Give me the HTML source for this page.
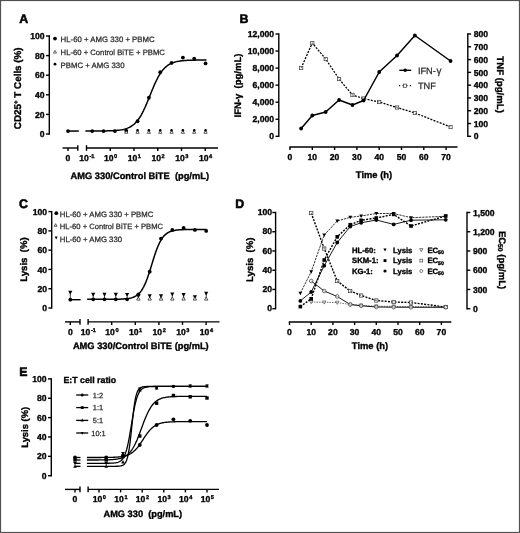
<!DOCTYPE html>
<html lang="en"><head><meta charset="utf-8"><title>Figure</title>
<style>
html,body{margin:0;padding:0;background:#fff;}
svg{display:block;font-family:'Liberation Sans', Arial, Helvetica, sans-serif;}
</style></head><body>
<svg width="520" height="533" viewBox="0 0 520 533" text-rendering="geometricPrecision" font-family="'Liberation Sans', Arial, Helvetica, sans-serif">
<rect x="0" y="0" width="520" height="533" fill="#fff"/>
<defs><filter id="soft" x="0" y="0" width="520" height="533" filterUnits="userSpaceOnUse"><feGaussianBlur stdDeviation="0.32"/></filter></defs>
<rect x="0.55" y="0.55" width="518.9" height="531.9" fill="none" stroke="#505050" stroke-width="1.1"/>
<g filter="url(#soft)">
<text x="19.30" y="22.90" font-size="12.4" font-weight="bold" text-anchor="start" fill="#000" stroke="#000" stroke-width="0.55" stroke-linejoin="round">A</text>
<line x1="49.30" y1="35.30" x2="49.30" y2="134.70" stroke="#000" stroke-width="1.4" stroke-linecap="butt"/>
<line x1="46.00" y1="134.00" x2="49.30" y2="134.00" stroke="#000" stroke-width="1.4" stroke-linecap="butt"/>
<text x="44.60" y="137.15" font-size="8.6" font-weight="bold" text-anchor="end" fill="#000" stroke="#000" stroke-width="0.35" stroke-linejoin="round">0</text>
<line x1="46.00" y1="114.40" x2="49.30" y2="114.40" stroke="#000" stroke-width="1.4" stroke-linecap="butt"/>
<text x="44.60" y="117.55" font-size="8.6" font-weight="bold" text-anchor="end" fill="#000" stroke="#000" stroke-width="0.35" stroke-linejoin="round">20</text>
<line x1="46.00" y1="94.80" x2="49.30" y2="94.80" stroke="#000" stroke-width="1.4" stroke-linecap="butt"/>
<text x="44.60" y="97.95" font-size="8.6" font-weight="bold" text-anchor="end" fill="#000" stroke="#000" stroke-width="0.35" stroke-linejoin="round">40</text>
<line x1="46.00" y1="75.20" x2="49.30" y2="75.20" stroke="#000" stroke-width="1.4" stroke-linecap="butt"/>
<text x="44.60" y="78.35" font-size="8.6" font-weight="bold" text-anchor="end" fill="#000" stroke="#000" stroke-width="0.35" stroke-linejoin="round">60</text>
<line x1="46.00" y1="55.60" x2="49.30" y2="55.60" stroke="#000" stroke-width="1.4" stroke-linecap="butt"/>
<text x="44.60" y="58.75" font-size="8.6" font-weight="bold" text-anchor="end" fill="#000" stroke="#000" stroke-width="0.35" stroke-linejoin="round">80</text>
<line x1="46.00" y1="36.00" x2="49.30" y2="36.00" stroke="#000" stroke-width="1.4" stroke-linecap="butt"/>
<text x="44.60" y="39.15" font-size="8.6" font-weight="bold" text-anchor="end" fill="#000" stroke="#000" stroke-width="0.35" stroke-linejoin="round">100</text>
<text transform="translate(21.0 88.3) rotate(-90)" font-size="9.85" font-weight="bold" text-anchor="middle" stroke="#000" stroke-width="0.35">CD25<tspan font-size="6.2" dy="-3.4">+</tspan><tspan dy="3.4"> T Cells (%)</tspan></text>
<line x1="62.50" y1="148.00" x2="77.80" y2="148.00" stroke="#000" stroke-width="1.4" stroke-linecap="butt"/>
<line x1="77.80" y1="145.20" x2="77.80" y2="150.80" stroke="#000" stroke-width="1.4" stroke-linecap="butt"/>
<line x1="68.00" y1="148.00" x2="68.00" y2="151.00" stroke="#000" stroke-width="1.4" stroke-linecap="butt"/>
<line x1="86.50" y1="148.00" x2="218.00" y2="148.00" stroke="#000" stroke-width="1.4" stroke-linecap="butt"/>
<line x1="86.50" y1="145.20" x2="86.50" y2="150.80" stroke="#000" stroke-width="1.4" stroke-linecap="butt"/>
<text x="68.00" y="161.20" font-size="8.6" font-weight="bold" text-anchor="middle" fill="#000" stroke="#000" stroke-width="0.35" stroke-linejoin="round">0</text>
<text x="86.80" y="161.20" font-size="8.6" font-weight="bold" text-anchor="middle" fill="#000" stroke="#000" stroke-width="0.35">10<tspan font-size="5.6" dy="-3.2" dx="0.6">-1</tspan></text>
<line x1="110.25" y1="148.00" x2="110.25" y2="151.00" stroke="#000" stroke-width="1.4" stroke-linecap="butt"/>
<text x="110.55" y="161.20" font-size="8.6" font-weight="bold" text-anchor="middle" fill="#000" stroke="#000" stroke-width="0.35">10<tspan font-size="5.6" dy="-3.2" dx="0.6">0</tspan></text>
<line x1="134.00" y1="148.00" x2="134.00" y2="151.00" stroke="#000" stroke-width="1.4" stroke-linecap="butt"/>
<text x="134.30" y="161.20" font-size="8.6" font-weight="bold" text-anchor="middle" fill="#000" stroke="#000" stroke-width="0.35">10<tspan font-size="5.6" dy="-3.2" dx="0.6">1</tspan></text>
<line x1="157.75" y1="148.00" x2="157.75" y2="151.00" stroke="#000" stroke-width="1.4" stroke-linecap="butt"/>
<text x="158.05" y="161.20" font-size="8.6" font-weight="bold" text-anchor="middle" fill="#000" stroke="#000" stroke-width="0.35">10<tspan font-size="5.6" dy="-3.2" dx="0.6">2</tspan></text>
<line x1="181.50" y1="148.00" x2="181.50" y2="151.00" stroke="#000" stroke-width="1.4" stroke-linecap="butt"/>
<text x="181.80" y="161.20" font-size="8.6" font-weight="bold" text-anchor="middle" fill="#000" stroke="#000" stroke-width="0.35">10<tspan font-size="5.6" dy="-3.2" dx="0.6">3</tspan></text>
<line x1="205.25" y1="148.00" x2="205.25" y2="151.00" stroke="#000" stroke-width="1.4" stroke-linecap="butt"/>
<text x="205.55" y="161.20" font-size="8.6" font-weight="bold" text-anchor="middle" fill="#000" stroke="#000" stroke-width="0.35">10<tspan font-size="5.6" dy="-3.2" dx="0.6">4</tspan></text>
<text x="139.80" y="179.30" font-size="9.3" font-weight="bold" text-anchor="middle" fill="#000" stroke="#000" stroke-width="0.35" stroke-linejoin="round" xml:space="preserve">AMG 330/Control BiTE  (pg/mL)</text>
<circle cx="55.00" cy="38.60" r="1.9" fill="#000" stroke="none" stroke-width="0.8"/>
<text x="60.60" y="41.70" font-size="7.8" font-weight="normal" text-anchor="start" fill="#2a2a2a" stroke="#2a2a2a" stroke-width="0.25">HL-60 + AMG 330 + PBMC</text>
<polygon points="55.00,50.30 53.48,53.10 56.52,53.10" fill="#fff" stroke="#444" stroke-width="0.8" stroke-linejoin="miter"/>
<text x="60.60" y="54.70" font-size="7.7" font-weight="normal" text-anchor="start" fill="#2a2a2a" stroke="#2a2a2a" stroke-width="0.25">HL-60 + Control BiTE + PBMC</text>
<circle cx="55.00" cy="64.20" r="1.4" fill="#000" stroke="none" stroke-width="0.8"/>
<text x="60.60" y="67.80" font-size="7.8" font-weight="normal" text-anchor="start" fill="#2a2a2a" stroke="#2a2a2a" stroke-width="0.25">PBMC + AMG 330</text>
<polyline points="85.38,131.05 86.56,131.05 87.75,131.05 88.94,131.05 90.12,131.04 91.31,131.04 92.50,131.04 93.69,131.03 94.88,131.03 96.06,131.02 97.25,131.02 98.44,131.01 99.63,131.00 100.81,130.99 102.00,130.98 103.19,130.96 104.38,130.94 105.56,130.92 106.75,130.90 107.94,130.87 109.13,130.83 110.31,130.79 111.50,130.74 112.69,130.69 113.88,130.62 115.06,130.54 116.25,130.45 117.44,130.33 118.62,130.20 119.81,130.05 121.00,129.87 122.19,129.66 123.38,129.41 124.56,129.12 125.75,128.78 126.94,128.38 128.13,127.91 129.31,127.37 130.50,126.74 131.69,126.01 132.88,125.17 134.06,124.21 135.25,123.10 136.44,121.84 137.63,120.42 138.81,118.82 140.00,117.03 141.19,115.06 142.38,112.89 143.56,110.54 144.75,108.03 145.94,105.35 147.13,102.56 148.31,99.67 149.50,96.72 150.69,93.76 151.88,90.82 153.06,87.94 154.25,85.17 155.44,82.53 156.63,80.04 157.81,77.73 159.00,75.60 160.19,73.67 161.38,71.92 162.56,70.35 163.75,68.96 164.94,67.74 166.12,66.66 167.31,65.72 168.50,64.90 169.69,64.20 170.88,63.58 172.06,63.06 173.25,62.61 174.44,62.22 175.62,61.89 176.81,61.61 178.00,61.37 179.19,61.16 180.37,60.99 181.56,60.84 182.75,60.71 183.94,60.60 185.12,60.51 186.31,60.44 187.50,60.37 188.69,60.32 189.87,60.27 191.06,60.23 192.25,60.20 193.44,60.17 194.62,60.14 195.81,60.12 197.00,60.11 198.19,60.09 199.37,60.08 200.56,60.07 201.75,60.06 202.94,60.05 204.12,60.05 205.31,60.04 206.50,60.04" fill="none" stroke="#000" stroke-width="1.5" stroke-linejoin="round"/>
<line x1="68.00" y1="131.06" x2="78.80" y2="131.06" stroke="#000" stroke-width="1.5" stroke-linecap="butt"/>
<circle cx="68.00" cy="131.06" r="1.9" fill="#000" stroke="none" stroke-width="0.8"/>
<circle cx="92.24" cy="131.06" r="1.9" fill="#000" stroke="none" stroke-width="0.8"/>
<circle cx="103.57" cy="131.06" r="1.9" fill="#000" stroke="none" stroke-width="0.8"/>
<circle cx="114.90" cy="131.06" r="1.9" fill="#000" stroke="none" stroke-width="0.8"/>
<circle cx="126.23" cy="130.86" r="1.9" fill="#000" stroke="none" stroke-width="0.8"/>
<circle cx="137.56" cy="121.26" r="1.9" fill="#000" stroke="none" stroke-width="0.8"/>
<circle cx="148.89" cy="97.74" r="1.9" fill="#000" stroke="none" stroke-width="0.8"/>
<circle cx="160.23" cy="72.26" r="1.9" fill="#000" stroke="none" stroke-width="0.8"/>
<circle cx="171.56" cy="62.95" r="1.9" fill="#000" stroke="none" stroke-width="0.8"/>
<circle cx="182.89" cy="57.56" r="1.9" fill="#000" stroke="none" stroke-width="0.8"/>
<circle cx="194.22" cy="58.54" r="1.9" fill="#000" stroke="none" stroke-width="0.8"/>
<circle cx="205.55" cy="63.44" r="1.9" fill="#000" stroke="none" stroke-width="0.8"/>
<polygon points="126.23,130.34 124.62,133.31 127.85,133.31" fill="#fff" stroke="#2a2a2a" stroke-width="0.75" stroke-linejoin="miter"/>
<circle cx="126.23" cy="130.18" r="1.25" fill="#000" stroke="none" stroke-width="0.8"/>
<polygon points="137.56,130.34 135.95,133.31 139.18,133.31" fill="#fff" stroke="#2a2a2a" stroke-width="0.75" stroke-linejoin="miter"/>
<circle cx="137.56" cy="130.18" r="1.25" fill="#000" stroke="none" stroke-width="0.8"/>
<polygon points="148.89,130.34 147.28,133.31 150.51,133.31" fill="#fff" stroke="#2a2a2a" stroke-width="0.75" stroke-linejoin="miter"/>
<circle cx="148.89" cy="130.18" r="1.25" fill="#000" stroke="none" stroke-width="0.8"/>
<polygon points="160.23,130.34 158.61,133.31 161.84,133.31" fill="#fff" stroke="#2a2a2a" stroke-width="0.75" stroke-linejoin="miter"/>
<circle cx="160.23" cy="130.18" r="1.25" fill="#000" stroke="none" stroke-width="0.8"/>
<polygon points="171.56,130.34 169.94,133.31 173.17,133.31" fill="#fff" stroke="#2a2a2a" stroke-width="0.75" stroke-linejoin="miter"/>
<circle cx="171.56" cy="130.18" r="1.25" fill="#000" stroke="none" stroke-width="0.8"/>
<polygon points="182.89,130.34 181.27,133.31 184.50,133.31" fill="#fff" stroke="#2a2a2a" stroke-width="0.75" stroke-linejoin="miter"/>
<circle cx="182.89" cy="130.18" r="1.25" fill="#000" stroke="none" stroke-width="0.8"/>
<polygon points="194.22,130.34 192.60,133.31 195.83,133.31" fill="#fff" stroke="#2a2a2a" stroke-width="0.75" stroke-linejoin="miter"/>
<circle cx="194.22" cy="130.18" r="1.25" fill="#000" stroke="none" stroke-width="0.8"/>
<polygon points="205.55,130.34 203.94,133.31 207.17,133.31" fill="#fff" stroke="#2a2a2a" stroke-width="0.75" stroke-linejoin="miter"/>
<circle cx="205.55" cy="130.18" r="1.25" fill="#000" stroke="none" stroke-width="0.8"/>
<text x="239.60" y="22.70" font-size="12.4" font-weight="bold" text-anchor="start" fill="#000" stroke="#000" stroke-width="0.55" stroke-linejoin="round">B</text>
<line x1="278.80" y1="33.30" x2="278.80" y2="137.00" stroke="#000" stroke-width="1.4" stroke-linecap="butt"/>
<line x1="275.50" y1="136.30" x2="278.80" y2="136.30" stroke="#000" stroke-width="1.4" stroke-linecap="butt"/>
<text x="274.10" y="139.45" font-size="8.6" font-weight="bold" text-anchor="end" fill="#000" stroke="#000" stroke-width="0.35" stroke-linejoin="round">0</text>
<line x1="275.50" y1="119.25" x2="278.80" y2="119.25" stroke="#000" stroke-width="1.4" stroke-linecap="butt"/>
<text x="274.10" y="122.40" font-size="8.6" font-weight="bold" text-anchor="end" fill="#000" stroke="#000" stroke-width="0.35" stroke-linejoin="round">2,000</text>
<line x1="275.50" y1="102.20" x2="278.80" y2="102.20" stroke="#000" stroke-width="1.4" stroke-linecap="butt"/>
<text x="274.10" y="105.35" font-size="8.6" font-weight="bold" text-anchor="end" fill="#000" stroke="#000" stroke-width="0.35" stroke-linejoin="round">4,000</text>
<line x1="275.50" y1="85.15" x2="278.80" y2="85.15" stroke="#000" stroke-width="1.4" stroke-linecap="butt"/>
<text x="274.10" y="88.30" font-size="8.6" font-weight="bold" text-anchor="end" fill="#000" stroke="#000" stroke-width="0.35" stroke-linejoin="round">6,000</text>
<line x1="275.50" y1="68.10" x2="278.80" y2="68.10" stroke="#000" stroke-width="1.4" stroke-linecap="butt"/>
<text x="274.10" y="71.25" font-size="8.6" font-weight="bold" text-anchor="end" fill="#000" stroke="#000" stroke-width="0.35" stroke-linejoin="round">8,000</text>
<line x1="275.50" y1="51.05" x2="278.80" y2="51.05" stroke="#000" stroke-width="1.4" stroke-linecap="butt"/>
<text x="274.10" y="54.20" font-size="8.6" font-weight="bold" text-anchor="end" fill="#000" stroke="#000" stroke-width="0.35" stroke-linejoin="round">10,000</text>
<line x1="275.50" y1="34.00" x2="278.80" y2="34.00" stroke="#000" stroke-width="1.4" stroke-linecap="butt"/>
<text x="274.10" y="37.15" font-size="8.6" font-weight="bold" text-anchor="end" fill="#000" stroke="#000" stroke-width="0.35" stroke-linejoin="round">12,000</text>
<text x="241.30" y="85.50" font-size="9.5" font-weight="bold" text-anchor="middle" fill="#000" stroke="#000" stroke-width="0.35" stroke-linejoin="round" transform="rotate(-90 241.30 85.50)" xml:space="preserve">IFN-γ  (pg/mL)</text>
<line x1="467.80" y1="33.30" x2="467.80" y2="137.00" stroke="#000" stroke-width="1.4" stroke-linecap="butt"/>
<line x1="467.80" y1="136.30" x2="471.10" y2="136.30" stroke="#000" stroke-width="1.4" stroke-linecap="butt"/>
<text x="473.80" y="139.45" font-size="8.6" font-weight="bold" text-anchor="start" fill="#000" stroke="#000" stroke-width="0.35" stroke-linejoin="round">0</text>
<line x1="467.80" y1="123.51" x2="471.10" y2="123.51" stroke="#000" stroke-width="1.4" stroke-linecap="butt"/>
<text x="473.80" y="126.66" font-size="8.6" font-weight="bold" text-anchor="start" fill="#000" stroke="#000" stroke-width="0.35" stroke-linejoin="round">100</text>
<line x1="467.80" y1="110.73" x2="471.10" y2="110.73" stroke="#000" stroke-width="1.4" stroke-linecap="butt"/>
<text x="473.80" y="113.88" font-size="8.6" font-weight="bold" text-anchor="start" fill="#000" stroke="#000" stroke-width="0.35" stroke-linejoin="round">200</text>
<line x1="467.80" y1="97.94" x2="471.10" y2="97.94" stroke="#000" stroke-width="1.4" stroke-linecap="butt"/>
<text x="473.80" y="101.09" font-size="8.6" font-weight="bold" text-anchor="start" fill="#000" stroke="#000" stroke-width="0.35" stroke-linejoin="round">300</text>
<line x1="467.80" y1="85.15" x2="471.10" y2="85.15" stroke="#000" stroke-width="1.4" stroke-linecap="butt"/>
<text x="473.80" y="88.30" font-size="8.6" font-weight="bold" text-anchor="start" fill="#000" stroke="#000" stroke-width="0.35" stroke-linejoin="round">400</text>
<line x1="467.80" y1="72.36" x2="471.10" y2="72.36" stroke="#000" stroke-width="1.4" stroke-linecap="butt"/>
<text x="473.80" y="75.51" font-size="8.6" font-weight="bold" text-anchor="start" fill="#000" stroke="#000" stroke-width="0.35" stroke-linejoin="round">500</text>
<line x1="467.80" y1="59.58" x2="471.10" y2="59.58" stroke="#000" stroke-width="1.4" stroke-linecap="butt"/>
<text x="473.80" y="62.73" font-size="8.6" font-weight="bold" text-anchor="start" fill="#000" stroke="#000" stroke-width="0.35" stroke-linejoin="round">600</text>
<line x1="467.80" y1="46.79" x2="471.10" y2="46.79" stroke="#000" stroke-width="1.4" stroke-linecap="butt"/>
<text x="473.80" y="49.94" font-size="8.6" font-weight="bold" text-anchor="start" fill="#000" stroke="#000" stroke-width="0.35" stroke-linejoin="round">700</text>
<line x1="467.80" y1="34.00" x2="471.10" y2="34.00" stroke="#000" stroke-width="1.4" stroke-linecap="butt"/>
<text x="473.80" y="37.15" font-size="8.6" font-weight="bold" text-anchor="start" fill="#000" stroke="#000" stroke-width="0.35" stroke-linejoin="round">800</text>
<text x="496.80" y="84.60" font-size="9.6" font-weight="bold" text-anchor="middle" fill="#000" stroke="#000" stroke-width="0.35" stroke-linejoin="round" transform="rotate(90 496.80 84.60)">TNF (pg/mL)</text>
<line x1="289.30" y1="147.00" x2="457.50" y2="147.00" stroke="#000" stroke-width="1.4" stroke-linecap="butt"/>
<line x1="290.00" y1="147.00" x2="290.00" y2="150.00" stroke="#000" stroke-width="1.4" stroke-linecap="butt"/>
<text x="290.00" y="160.30" font-size="8.6" font-weight="bold" text-anchor="middle" fill="#000" stroke="#000" stroke-width="0.35" stroke-linejoin="round">0</text>
<line x1="312.30" y1="147.00" x2="312.30" y2="150.00" stroke="#000" stroke-width="1.4" stroke-linecap="butt"/>
<text x="312.30" y="160.30" font-size="8.6" font-weight="bold" text-anchor="middle" fill="#000" stroke="#000" stroke-width="0.35" stroke-linejoin="round">10</text>
<line x1="334.60" y1="147.00" x2="334.60" y2="150.00" stroke="#000" stroke-width="1.4" stroke-linecap="butt"/>
<text x="334.60" y="160.30" font-size="8.6" font-weight="bold" text-anchor="middle" fill="#000" stroke="#000" stroke-width="0.35" stroke-linejoin="round">20</text>
<line x1="356.90" y1="147.00" x2="356.90" y2="150.00" stroke="#000" stroke-width="1.4" stroke-linecap="butt"/>
<text x="356.90" y="160.30" font-size="8.6" font-weight="bold" text-anchor="middle" fill="#000" stroke="#000" stroke-width="0.35" stroke-linejoin="round">30</text>
<line x1="379.20" y1="147.00" x2="379.20" y2="150.00" stroke="#000" stroke-width="1.4" stroke-linecap="butt"/>
<text x="379.20" y="160.30" font-size="8.6" font-weight="bold" text-anchor="middle" fill="#000" stroke="#000" stroke-width="0.35" stroke-linejoin="round">40</text>
<line x1="401.50" y1="147.00" x2="401.50" y2="150.00" stroke="#000" stroke-width="1.4" stroke-linecap="butt"/>
<text x="401.50" y="160.30" font-size="8.6" font-weight="bold" text-anchor="middle" fill="#000" stroke="#000" stroke-width="0.35" stroke-linejoin="round">50</text>
<line x1="423.80" y1="147.00" x2="423.80" y2="150.00" stroke="#000" stroke-width="1.4" stroke-linecap="butt"/>
<text x="423.80" y="160.30" font-size="8.6" font-weight="bold" text-anchor="middle" fill="#000" stroke="#000" stroke-width="0.35" stroke-linejoin="round">60</text>
<line x1="446.10" y1="147.00" x2="446.10" y2="150.00" stroke="#000" stroke-width="1.4" stroke-linecap="butt"/>
<text x="446.10" y="160.30" font-size="8.6" font-weight="bold" text-anchor="middle" fill="#000" stroke="#000" stroke-width="0.35" stroke-linejoin="round">70</text>
<text x="374.00" y="177.60" font-size="9.4" font-weight="bold" text-anchor="middle" fill="#000" stroke="#000" stroke-width="0.35" stroke-linejoin="round">Time (h)</text>
<polyline points="301.15,68.00 312.30,43.00 325.68,59.00 339.06,79.00 352.44,95.00 363.59,98.50 379.20,102.00 397.04,107.50 414.88,113.00 450.56,127.00" fill="none" stroke="#000" stroke-width="1.3" stroke-dasharray="2.0 1.3" stroke-linejoin="round"/>
<rect x="299.50" y="66.35" width="3.3" height="3.3" fill="rgba(255,255,255,0.55)" stroke="#444" stroke-width="0.75"/>
<rect x="310.65" y="41.35" width="3.3" height="3.3" fill="rgba(255,255,255,0.55)" stroke="#444" stroke-width="0.75"/>
<rect x="324.03" y="57.35" width="3.3" height="3.3" fill="rgba(255,255,255,0.55)" stroke="#444" stroke-width="0.75"/>
<rect x="337.41" y="77.35" width="3.3" height="3.3" fill="rgba(255,255,255,0.55)" stroke="#444" stroke-width="0.75"/>
<rect x="350.79" y="93.35" width="3.3" height="3.3" fill="rgba(255,255,255,0.55)" stroke="#444" stroke-width="0.75"/>
<rect x="361.94" y="96.85" width="3.3" height="3.3" fill="rgba(255,255,255,0.55)" stroke="#444" stroke-width="0.75"/>
<rect x="377.55" y="100.35" width="3.3" height="3.3" fill="rgba(255,255,255,0.55)" stroke="#444" stroke-width="0.75"/>
<rect x="395.39" y="105.85" width="3.3" height="3.3" fill="rgba(255,255,255,0.55)" stroke="#444" stroke-width="0.75"/>
<rect x="413.23" y="111.35" width="3.3" height="3.3" fill="rgba(255,255,255,0.55)" stroke="#444" stroke-width="0.75"/>
<rect x="448.91" y="125.35" width="3.3" height="3.3" fill="rgba(255,255,255,0.55)" stroke="#444" stroke-width="0.75"/>
<polyline points="301.15,128.50 312.30,115.50 325.68,112.00 339.06,100.00 352.44,105.00 363.59,100.50 379.20,72.00 397.04,55.50 414.88,35.50 450.56,61.00" fill="none" stroke="#000" stroke-width="1.5" stroke-linejoin="round"/>
<circle cx="301.15" cy="128.50" r="1.9" fill="#000" stroke="none" stroke-width="0.8"/>
<circle cx="312.30" cy="115.50" r="1.9" fill="#000" stroke="none" stroke-width="0.8"/>
<circle cx="325.68" cy="112.00" r="1.9" fill="#000" stroke="none" stroke-width="0.8"/>
<circle cx="339.06" cy="100.00" r="1.9" fill="#000" stroke="none" stroke-width="0.8"/>
<circle cx="352.44" cy="105.00" r="1.9" fill="#000" stroke="none" stroke-width="0.8"/>
<circle cx="363.59" cy="100.50" r="1.9" fill="#000" stroke="none" stroke-width="0.8"/>
<circle cx="379.20" cy="72.00" r="1.9" fill="#000" stroke="none" stroke-width="0.8"/>
<circle cx="397.04" cy="55.50" r="1.9" fill="#000" stroke="none" stroke-width="0.8"/>
<circle cx="414.88" cy="35.50" r="1.9" fill="#000" stroke="none" stroke-width="0.8"/>
<circle cx="450.56" cy="61.00" r="1.9" fill="#000" stroke="none" stroke-width="0.8"/>
<line x1="399.30" y1="70.30" x2="411.20" y2="70.30" stroke="#000" stroke-width="1.4" stroke-linecap="butt"/>
<circle cx="405.20" cy="70.30" r="1.8" fill="#000" stroke="none" stroke-width="0.8"/>
<text x="417.90" y="74.00" font-size="9.2" font-weight="normal" text-anchor="start" fill="#2a2a2a" stroke="#2a2a2a" stroke-width="0.25">IFN-<tspan dx="0.8" font-size="10">γ</tspan></text>
<line x1="399.00" y1="85.70" x2="411.00" y2="85.70" stroke="#000" stroke-width="1.3" stroke-dasharray="1.2 2.4" stroke-linecap="butt"/>
<rect x="403.30" y="84.10" width="3.2" height="3.2" fill="rgba(255,255,255,0.55)" stroke="#444" stroke-width="0.75"/>
<text x="417.90" y="88.90" font-size="9.2" font-weight="normal" text-anchor="start" fill="#2a2a2a" stroke="#2a2a2a" stroke-width="0.25">TNF</text>
<text x="19.00" y="208.40" font-size="12.4" font-weight="bold" text-anchor="start" fill="#000" stroke="#000" stroke-width="0.55" stroke-linejoin="round">C</text>
<line x1="51.70" y1="210.90" x2="51.70" y2="308.70" stroke="#000" stroke-width="1.4" stroke-linecap="butt"/>
<line x1="48.40" y1="308.00" x2="51.70" y2="308.00" stroke="#000" stroke-width="1.4" stroke-linecap="butt"/>
<text x="47.00" y="311.15" font-size="8.6" font-weight="bold" text-anchor="end" fill="#000" stroke="#000" stroke-width="0.35" stroke-linejoin="round">0</text>
<line x1="48.40" y1="288.72" x2="51.70" y2="288.72" stroke="#000" stroke-width="1.4" stroke-linecap="butt"/>
<text x="47.00" y="291.87" font-size="8.6" font-weight="bold" text-anchor="end" fill="#000" stroke="#000" stroke-width="0.35" stroke-linejoin="round">20</text>
<line x1="48.40" y1="269.44" x2="51.70" y2="269.44" stroke="#000" stroke-width="1.4" stroke-linecap="butt"/>
<text x="47.00" y="272.59" font-size="8.6" font-weight="bold" text-anchor="end" fill="#000" stroke="#000" stroke-width="0.35" stroke-linejoin="round">40</text>
<line x1="48.40" y1="250.16" x2="51.70" y2="250.16" stroke="#000" stroke-width="1.4" stroke-linecap="butt"/>
<text x="47.00" y="253.31" font-size="8.6" font-weight="bold" text-anchor="end" fill="#000" stroke="#000" stroke-width="0.35" stroke-linejoin="round">60</text>
<line x1="48.40" y1="230.88" x2="51.70" y2="230.88" stroke="#000" stroke-width="1.4" stroke-linecap="butt"/>
<text x="47.00" y="234.03" font-size="8.6" font-weight="bold" text-anchor="end" fill="#000" stroke="#000" stroke-width="0.35" stroke-linejoin="round">80</text>
<line x1="48.40" y1="211.60" x2="51.70" y2="211.60" stroke="#000" stroke-width="1.4" stroke-linecap="butt"/>
<text x="47.00" y="214.75" font-size="8.6" font-weight="bold" text-anchor="end" fill="#000" stroke="#000" stroke-width="0.35" stroke-linejoin="round">100</text>
<text x="26.60" y="259.50" font-size="9.6" font-weight="bold" text-anchor="middle" fill="#000" stroke="#000" stroke-width="0.35" stroke-linejoin="round" transform="rotate(-90 26.60 259.50)" xml:space="preserve">Lysis  (%)</text>
<line x1="65.00" y1="321.90" x2="80.00" y2="321.90" stroke="#000" stroke-width="1.4" stroke-linecap="butt"/>
<line x1="80.00" y1="319.10" x2="80.00" y2="324.70" stroke="#000" stroke-width="1.4" stroke-linecap="butt"/>
<line x1="70.30" y1="321.90" x2="70.30" y2="324.90" stroke="#000" stroke-width="1.4" stroke-linecap="butt"/>
<line x1="88.10" y1="321.90" x2="219.50" y2="321.90" stroke="#000" stroke-width="1.4" stroke-linecap="butt"/>
<line x1="88.10" y1="319.10" x2="88.10" y2="324.70" stroke="#000" stroke-width="1.4" stroke-linecap="butt"/>
<text x="70.30" y="335.40" font-size="8.6" font-weight="bold" text-anchor="middle" fill="#000" stroke="#000" stroke-width="0.35" stroke-linejoin="round">0</text>
<text x="88.40" y="335.40" font-size="8.6" font-weight="bold" text-anchor="middle" fill="#000" stroke="#000" stroke-width="0.35">10<tspan font-size="5.6" dy="-3.2" dx="0.6">-1</tspan></text>
<line x1="111.70" y1="321.90" x2="111.70" y2="324.90" stroke="#000" stroke-width="1.4" stroke-linecap="butt"/>
<text x="112.00" y="335.40" font-size="8.6" font-weight="bold" text-anchor="middle" fill="#000" stroke="#000" stroke-width="0.35">10<tspan font-size="5.6" dy="-3.2" dx="0.6">0</tspan></text>
<line x1="135.30" y1="321.90" x2="135.30" y2="324.90" stroke="#000" stroke-width="1.4" stroke-linecap="butt"/>
<text x="135.60" y="335.40" font-size="8.6" font-weight="bold" text-anchor="middle" fill="#000" stroke="#000" stroke-width="0.35">10<tspan font-size="5.6" dy="-3.2" dx="0.6">1</tspan></text>
<line x1="158.90" y1="321.90" x2="158.90" y2="324.90" stroke="#000" stroke-width="1.4" stroke-linecap="butt"/>
<text x="159.20" y="335.40" font-size="8.6" font-weight="bold" text-anchor="middle" fill="#000" stroke="#000" stroke-width="0.35">10<tspan font-size="5.6" dy="-3.2" dx="0.6">2</tspan></text>
<line x1="182.50" y1="321.90" x2="182.50" y2="324.90" stroke="#000" stroke-width="1.4" stroke-linecap="butt"/>
<text x="182.80" y="335.40" font-size="8.6" font-weight="bold" text-anchor="middle" fill="#000" stroke="#000" stroke-width="0.35">10<tspan font-size="5.6" dy="-3.2" dx="0.6">3</tspan></text>
<line x1="206.10" y1="321.90" x2="206.10" y2="324.90" stroke="#000" stroke-width="1.4" stroke-linecap="butt"/>
<text x="206.40" y="335.40" font-size="8.6" font-weight="bold" text-anchor="middle" fill="#000" stroke="#000" stroke-width="0.35">10<tspan font-size="5.6" dy="-3.2" dx="0.6">4</tspan></text>
<text x="140.80" y="349.40" font-size="9.3" font-weight="bold" text-anchor="middle" fill="#000" stroke="#000" stroke-width="0.35" stroke-linejoin="round">AMG 330/Control BiTE (pg/mL)</text>
<circle cx="56.30" cy="213.20" r="1.9" fill="#000" stroke="none" stroke-width="0.8"/>
<text x="59.80" y="216.80" font-size="7.75" font-weight="normal" text-anchor="start" fill="#2a2a2a" stroke="#2a2a2a" stroke-width="0.25">HL-60 + AMG 330 + PBMC</text>
<polygon points="55.60,223.70 54.18,226.32 57.02,226.32" fill="#fff" stroke="#333" stroke-width="0.8" stroke-linejoin="miter"/>
<text x="59.80" y="228.90" font-size="7.62" font-weight="normal" text-anchor="start" fill="#2a2a2a" stroke="#2a2a2a" stroke-width="0.25">HL-60 + Control BiTE + PBMC</text>
<polygon points="56.20,239.40 54.68,236.60 57.72,236.60" fill="#000" stroke="none" stroke-width="0.8" stroke-linejoin="miter"/>
<text x="59.80" y="241.80" font-size="7.75" font-weight="normal" text-anchor="start" fill="#2a2a2a" stroke="#2a2a2a" stroke-width="0.25">HL-60 + AMG 330</text>
<polyline points="87.16,299.32 88.34,299.32 89.52,299.32 90.70,299.32 91.88,299.32 93.06,299.32 94.24,299.32 95.42,299.32 96.60,299.32 97.78,299.32 98.96,299.32 100.14,299.32 101.32,299.32 102.50,299.32 103.68,299.32 104.86,299.31 106.04,299.31 107.22,299.31 108.40,299.30 109.58,299.30 110.76,299.29 111.94,299.28 113.12,299.27 114.30,299.26 115.48,299.25 116.66,299.23 117.84,299.20 119.02,299.17 120.20,299.14 121.38,299.09 122.56,299.03 123.74,298.96 124.92,298.87 126.10,298.76 127.28,298.63 128.46,298.46 129.64,298.25 130.82,297.98 132.00,297.66 133.18,297.26 134.36,296.77 135.54,296.17 136.72,295.43 137.90,294.53 139.08,293.44 140.26,292.14 141.44,290.58 142.62,288.75 143.80,286.61 144.98,284.14 146.16,281.35 147.34,278.25 148.52,274.86 149.70,271.24 150.88,267.46 152.06,263.61 153.24,259.77 154.42,256.05 155.60,252.51 156.78,249.23 157.96,246.25 159.14,243.59 160.32,241.26 161.50,239.24 162.68,237.52 163.86,236.07 165.04,234.86 166.22,233.85 167.40,233.02 168.58,232.34 169.76,231.78 170.94,231.33 172.12,230.96 173.30,230.66 174.48,230.42 175.66,230.23 176.84,230.07 178.02,229.95 179.20,229.85 180.38,229.76 181.56,229.70 182.74,229.65 183.92,229.60 185.10,229.57 186.28,229.54 187.46,229.52 188.64,229.50 189.82,229.49 191.00,229.48 192.18,229.47 193.36,229.46 194.54,229.46 195.72,229.45 196.90,229.45 198.08,229.45 199.26,229.44 200.44,229.44 201.62,229.44 202.80,229.44 203.98,229.44 205.16,229.44 206.34,229.44" fill="none" stroke="#000" stroke-width="1.5" stroke-linejoin="round"/>
<line x1="70.00" y1="299.71" x2="80.60" y2="299.71" stroke="#000" stroke-width="1.4" stroke-linecap="butt"/>
<line x1="70.30" y1="292.00" x2="70.30" y2="299.32" stroke="#222" stroke-width="0.8" stroke-linecap="butt"/>
<polygon points="70.30,294.70 68.21,290.85 72.39,290.85" fill="#000" stroke="none" stroke-width="0.8" stroke-linejoin="miter"/>
<line x1="93.20" y1="293.93" x2="93.20" y2="299.32" stroke="#222" stroke-width="0.8" stroke-linecap="butt"/>
<polygon points="93.20,296.63 91.11,292.78 95.29,292.78" fill="#000" stroke="none" stroke-width="0.8" stroke-linejoin="miter"/>
<line x1="104.50" y1="293.93" x2="104.50" y2="299.32" stroke="#222" stroke-width="0.8" stroke-linecap="butt"/>
<polygon points="104.50,296.63 102.41,292.78 106.59,292.78" fill="#000" stroke="none" stroke-width="0.8" stroke-linejoin="miter"/>
<line x1="115.80" y1="293.93" x2="115.80" y2="299.32" stroke="#222" stroke-width="0.8" stroke-linecap="butt"/>
<polygon points="115.80,296.63 113.71,292.78 117.89,292.78" fill="#000" stroke="none" stroke-width="0.8" stroke-linejoin="miter"/>
<line x1="127.10" y1="294.12" x2="127.10" y2="299.32" stroke="#222" stroke-width="0.8" stroke-linecap="butt"/>
<polygon points="127.10,296.82 125.01,292.97 129.19,292.97" fill="#000" stroke="none" stroke-width="0.8" stroke-linejoin="miter"/>
<line x1="138.40" y1="295.28" x2="138.40" y2="299.32" stroke="#222" stroke-width="0.8" stroke-linecap="butt"/>
<polygon points="138.40,297.98 136.31,294.13 140.49,294.13" fill="#000" stroke="none" stroke-width="0.8" stroke-linejoin="miter"/>
<line x1="149.70" y1="295.28" x2="149.70" y2="299.32" stroke="#222" stroke-width="0.8" stroke-linecap="butt"/>
<polygon points="149.70,297.98 147.61,294.13 151.79,294.13" fill="#000" stroke="none" stroke-width="0.8" stroke-linejoin="miter"/>
<line x1="161.00" y1="295.28" x2="161.00" y2="299.32" stroke="#222" stroke-width="0.8" stroke-linecap="butt"/>
<polygon points="161.00,297.98 158.91,294.13 163.09,294.13" fill="#000" stroke="none" stroke-width="0.8" stroke-linejoin="miter"/>
<line x1="172.30" y1="293.64" x2="172.30" y2="299.32" stroke="#222" stroke-width="0.8" stroke-linecap="butt"/>
<polygon points="172.30,296.34 170.21,292.49 174.39,292.49" fill="#000" stroke="none" stroke-width="0.8" stroke-linejoin="miter"/>
<line x1="183.60" y1="294.21" x2="183.60" y2="299.32" stroke="#222" stroke-width="0.8" stroke-linecap="butt"/>
<polygon points="183.60,296.91 181.51,293.06 185.69,293.06" fill="#000" stroke="none" stroke-width="0.8" stroke-linejoin="miter"/>
<line x1="194.90" y1="296.43" x2="194.90" y2="299.32" stroke="#222" stroke-width="0.8" stroke-linecap="butt"/>
<polygon points="194.90,299.13 192.81,295.28 196.99,295.28" fill="#000" stroke="none" stroke-width="0.8" stroke-linejoin="miter"/>
<line x1="206.20" y1="292.87" x2="206.20" y2="299.32" stroke="#222" stroke-width="0.8" stroke-linecap="butt"/>
<polygon points="206.20,295.57 204.11,291.72 208.29,291.72" fill="#000" stroke="none" stroke-width="0.8" stroke-linejoin="miter"/>
<polygon points="138.40,296.95 136.69,300.10 140.11,300.10" fill="#fff" stroke="#222" stroke-width="0.75" stroke-linejoin="miter"/>
<polygon points="149.70,296.95 147.99,300.10 151.41,300.10" fill="#fff" stroke="#222" stroke-width="0.75" stroke-linejoin="miter"/>
<polygon points="161.00,296.95 159.29,300.10 162.71,300.10" fill="#fff" stroke="#222" stroke-width="0.75" stroke-linejoin="miter"/>
<polygon points="172.30,296.95 170.59,300.10 174.01,300.10" fill="#fff" stroke="#222" stroke-width="0.75" stroke-linejoin="miter"/>
<polygon points="183.60,296.95 181.89,300.10 185.31,300.10" fill="#fff" stroke="#222" stroke-width="0.75" stroke-linejoin="miter"/>
<polygon points="194.90,296.95 193.19,300.10 196.61,300.10" fill="#fff" stroke="#222" stroke-width="0.75" stroke-linejoin="miter"/>
<polygon points="206.20,296.95 204.49,300.10 207.91,300.10" fill="#fff" stroke="#222" stroke-width="0.75" stroke-linejoin="miter"/>
<circle cx="70.30" cy="299.71" r="1.9" fill="#000" stroke="none" stroke-width="0.8"/>
<circle cx="93.20" cy="299.32" r="1.9" fill="#000" stroke="none" stroke-width="0.8"/>
<circle cx="104.50" cy="299.32" r="1.9" fill="#000" stroke="none" stroke-width="0.8"/>
<circle cx="115.80" cy="299.32" r="1.9" fill="#000" stroke="none" stroke-width="0.8"/>
<circle cx="127.10" cy="299.32" r="1.9" fill="#000" stroke="none" stroke-width="0.8"/>
<circle cx="138.40" cy="294.50" r="1.9" fill="#000" stroke="none" stroke-width="0.8"/>
<circle cx="149.70" cy="271.66" r="1.9" fill="#000" stroke="none" stroke-width="0.8"/>
<circle cx="161.00" cy="238.59" r="1.9" fill="#000" stroke="none" stroke-width="0.8"/>
<circle cx="172.30" cy="229.92" r="1.9" fill="#000" stroke="none" stroke-width="0.8"/>
<circle cx="183.60" cy="227.99" r="1.9" fill="#000" stroke="none" stroke-width="0.8"/>
<circle cx="194.90" cy="229.92" r="1.9" fill="#000" stroke="none" stroke-width="0.8"/>
<circle cx="206.20" cy="230.88" r="1.9" fill="#000" stroke="none" stroke-width="0.8"/>
<text x="235.30" y="207.90" font-size="12.4" font-weight="bold" text-anchor="start" fill="#000" stroke="#000" stroke-width="0.55" stroke-linejoin="round">D</text>
<line x1="275.60" y1="211.80" x2="275.60" y2="309.40" stroke="#000" stroke-width="1.4" stroke-linecap="butt"/>
<line x1="272.30" y1="308.70" x2="275.60" y2="308.70" stroke="#000" stroke-width="1.4" stroke-linecap="butt"/>
<text x="272.00" y="311.30" font-size="8.6" font-weight="bold" text-anchor="end" fill="#000" stroke="#000" stroke-width="0.35" stroke-linejoin="round">0</text>
<line x1="272.30" y1="289.46" x2="275.60" y2="289.46" stroke="#000" stroke-width="1.4" stroke-linecap="butt"/>
<text x="272.00" y="292.06" font-size="8.6" font-weight="bold" text-anchor="end" fill="#000" stroke="#000" stroke-width="0.35" stroke-linejoin="round">20</text>
<line x1="272.30" y1="270.22" x2="275.60" y2="270.22" stroke="#000" stroke-width="1.4" stroke-linecap="butt"/>
<text x="272.00" y="272.82" font-size="8.6" font-weight="bold" text-anchor="end" fill="#000" stroke="#000" stroke-width="0.35" stroke-linejoin="round">40</text>
<line x1="272.30" y1="250.98" x2="275.60" y2="250.98" stroke="#000" stroke-width="1.4" stroke-linecap="butt"/>
<text x="272.00" y="253.58" font-size="8.6" font-weight="bold" text-anchor="end" fill="#000" stroke="#000" stroke-width="0.35" stroke-linejoin="round">60</text>
<line x1="272.30" y1="231.74" x2="275.60" y2="231.74" stroke="#000" stroke-width="1.4" stroke-linecap="butt"/>
<text x="272.00" y="234.34" font-size="8.6" font-weight="bold" text-anchor="end" fill="#000" stroke="#000" stroke-width="0.35" stroke-linejoin="round">80</text>
<line x1="272.30" y1="212.50" x2="275.60" y2="212.50" stroke="#000" stroke-width="1.4" stroke-linecap="butt"/>
<text x="272.00" y="215.10" font-size="8.6" font-weight="bold" text-anchor="end" fill="#000" stroke="#000" stroke-width="0.35" stroke-linejoin="round">100</text>
<text x="253.50" y="259.70" font-size="9.6" font-weight="bold" text-anchor="middle" fill="#000" stroke="#000" stroke-width="0.35" stroke-linejoin="round" transform="rotate(-90 253.50 259.70)" xml:space="preserve">Lysis  (%)</text>
<line x1="467.00" y1="211.80" x2="467.00" y2="309.40" stroke="#000" stroke-width="1.4" stroke-linecap="butt"/>
<line x1="467.00" y1="308.70" x2="470.30" y2="308.70" stroke="#000" stroke-width="1.4" stroke-linecap="butt"/>
<text x="473.00" y="311.85" font-size="8.6" font-weight="bold" text-anchor="start" fill="#000" stroke="#000" stroke-width="0.35" stroke-linejoin="round">0</text>
<line x1="467.00" y1="289.46" x2="470.30" y2="289.46" stroke="#000" stroke-width="1.4" stroke-linecap="butt"/>
<text x="473.00" y="292.61" font-size="8.6" font-weight="bold" text-anchor="start" fill="#000" stroke="#000" stroke-width="0.35" stroke-linejoin="round">300</text>
<line x1="467.00" y1="270.22" x2="470.30" y2="270.22" stroke="#000" stroke-width="1.4" stroke-linecap="butt"/>
<text x="473.00" y="273.37" font-size="8.6" font-weight="bold" text-anchor="start" fill="#000" stroke="#000" stroke-width="0.35" stroke-linejoin="round">600</text>
<line x1="467.00" y1="250.98" x2="470.30" y2="250.98" stroke="#000" stroke-width="1.4" stroke-linecap="butt"/>
<text x="473.00" y="254.13" font-size="8.6" font-weight="bold" text-anchor="start" fill="#000" stroke="#000" stroke-width="0.35" stroke-linejoin="round">900</text>
<line x1="467.00" y1="231.74" x2="470.30" y2="231.74" stroke="#000" stroke-width="1.4" stroke-linecap="butt"/>
<text x="473.00" y="234.89" font-size="8.6" font-weight="bold" text-anchor="start" fill="#000" stroke="#000" stroke-width="0.35" stroke-linejoin="round">1,200</text>
<line x1="467.00" y1="212.50" x2="470.30" y2="212.50" stroke="#000" stroke-width="1.4" stroke-linecap="butt"/>
<text x="473.00" y="215.65" font-size="8.6" font-weight="bold" text-anchor="start" fill="#000" stroke="#000" stroke-width="0.35" stroke-linejoin="round">1,500</text>
<text transform="translate(499.2 260) rotate(90)" font-size="9.5" font-weight="bold" text-anchor="middle" stroke="#000" stroke-width="0.35">EC<tspan font-size="6.8" dy="1.6">50</tspan><tspan dy="-1.6"> (pg/mL)</tspan></text>
<line x1="288.80" y1="322.00" x2="451.30" y2="322.00" stroke="#000" stroke-width="1.4" stroke-linecap="butt"/>
<line x1="289.50" y1="322.00" x2="289.50" y2="325.00" stroke="#000" stroke-width="1.4" stroke-linecap="butt"/>
<text x="289.50" y="335.20" font-size="8.6" font-weight="bold" text-anchor="middle" fill="#000" stroke="#000" stroke-width="0.35" stroke-linejoin="round">0</text>
<line x1="311.20" y1="322.00" x2="311.20" y2="325.00" stroke="#000" stroke-width="1.4" stroke-linecap="butt"/>
<text x="311.20" y="335.20" font-size="8.6" font-weight="bold" text-anchor="middle" fill="#000" stroke="#000" stroke-width="0.35" stroke-linejoin="round">10</text>
<line x1="332.90" y1="322.00" x2="332.90" y2="325.00" stroke="#000" stroke-width="1.4" stroke-linecap="butt"/>
<text x="332.90" y="335.20" font-size="8.6" font-weight="bold" text-anchor="middle" fill="#000" stroke="#000" stroke-width="0.35" stroke-linejoin="round">20</text>
<line x1="354.60" y1="322.00" x2="354.60" y2="325.00" stroke="#000" stroke-width="1.4" stroke-linecap="butt"/>
<text x="354.60" y="335.20" font-size="8.6" font-weight="bold" text-anchor="middle" fill="#000" stroke="#000" stroke-width="0.35" stroke-linejoin="round">30</text>
<line x1="376.30" y1="322.00" x2="376.30" y2="325.00" stroke="#000" stroke-width="1.4" stroke-linecap="butt"/>
<text x="376.30" y="335.20" font-size="8.6" font-weight="bold" text-anchor="middle" fill="#000" stroke="#000" stroke-width="0.35" stroke-linejoin="round">40</text>
<line x1="398.00" y1="322.00" x2="398.00" y2="325.00" stroke="#000" stroke-width="1.4" stroke-linecap="butt"/>
<text x="398.00" y="335.20" font-size="8.6" font-weight="bold" text-anchor="middle" fill="#000" stroke="#000" stroke-width="0.35" stroke-linejoin="round">50</text>
<line x1="419.70" y1="322.00" x2="419.70" y2="325.00" stroke="#000" stroke-width="1.4" stroke-linecap="butt"/>
<text x="419.70" y="335.20" font-size="8.6" font-weight="bold" text-anchor="middle" fill="#000" stroke="#000" stroke-width="0.35" stroke-linejoin="round">60</text>
<line x1="441.40" y1="322.00" x2="441.40" y2="325.00" stroke="#000" stroke-width="1.4" stroke-linecap="butt"/>
<text x="441.40" y="335.20" font-size="8.6" font-weight="bold" text-anchor="middle" fill="#000" stroke="#000" stroke-width="0.35" stroke-linejoin="round">70</text>
<text x="370.00" y="348.80" font-size="9.4" font-weight="bold" text-anchor="middle" fill="#000" stroke="#000" stroke-width="0.35" stroke-linejoin="round">Time (h)</text>
<polyline points="311.20,302.00 324.22,302.30 337.24,302.60 350.26,304.50 361.11,305.30 376.30,306.20 393.66,306.40 411.02,306.60 445.74,306.80" fill="none" stroke="#555" stroke-width="0.8" stroke-dasharray="1.6 1.0" stroke-linejoin="round"/>
<polyline points="311.20,213.00 324.22,248.50 337.24,281.00 350.26,291.00 361.11,295.50 376.30,300.50 393.66,302.00 411.02,302.50 445.74,307.00" fill="none" stroke="#000" stroke-width="1.4" stroke-dasharray="2.0 1.3" stroke-linejoin="round"/>
<polyline points="311.20,281.00 324.22,291.00 337.24,296.50 350.26,304.50 361.11,305.80 376.30,307.00 393.66,307.20 411.02,307.30 445.74,307.30" fill="none" stroke="#000" stroke-width="0.9" stroke-linejoin="round"/>
<polygon points="311.20,303.80 309.49,300.65 312.91,300.65" fill="rgba(255,255,255,0.55)" stroke="#555" stroke-width="0.7" stroke-linejoin="miter"/>
<polygon points="324.22,304.10 322.51,300.95 325.93,300.95" fill="rgba(255,255,255,0.55)" stroke="#555" stroke-width="0.7" stroke-linejoin="miter"/>
<polygon points="337.24,304.40 335.53,301.25 338.95,301.25" fill="rgba(255,255,255,0.55)" stroke="#555" stroke-width="0.7" stroke-linejoin="miter"/>
<polygon points="350.26,306.30 348.55,303.15 351.97,303.15" fill="rgba(255,255,255,0.55)" stroke="#555" stroke-width="0.7" stroke-linejoin="miter"/>
<polygon points="361.11,307.10 359.40,303.95 362.82,303.95" fill="rgba(255,255,255,0.55)" stroke="#555" stroke-width="0.7" stroke-linejoin="miter"/>
<polygon points="376.30,308.00 374.59,304.85 378.01,304.85" fill="rgba(255,255,255,0.55)" stroke="#555" stroke-width="0.7" stroke-linejoin="miter"/>
<polygon points="393.66,308.20 391.95,305.05 395.37,305.05" fill="rgba(255,255,255,0.55)" stroke="#555" stroke-width="0.7" stroke-linejoin="miter"/>
<polygon points="411.02,308.40 409.31,305.25 412.73,305.25" fill="rgba(255,255,255,0.55)" stroke="#555" stroke-width="0.7" stroke-linejoin="miter"/>
<polygon points="445.74,308.60 444.03,305.45 447.45,305.45" fill="rgba(255,255,255,0.55)" stroke="#555" stroke-width="0.7" stroke-linejoin="miter"/>
<rect x="309.55" y="211.35" width="3.3" height="3.3" fill="rgba(255,255,255,0.55)" stroke="#444" stroke-width="0.75"/>
<rect x="322.57" y="246.85" width="3.3" height="3.3" fill="rgba(255,255,255,0.55)" stroke="#444" stroke-width="0.75"/>
<rect x="335.59" y="279.35" width="3.3" height="3.3" fill="rgba(255,255,255,0.55)" stroke="#444" stroke-width="0.75"/>
<rect x="348.61" y="289.35" width="3.3" height="3.3" fill="rgba(255,255,255,0.55)" stroke="#444" stroke-width="0.75"/>
<rect x="359.46" y="293.85" width="3.3" height="3.3" fill="rgba(255,255,255,0.55)" stroke="#444" stroke-width="0.75"/>
<rect x="374.65" y="298.85" width="3.3" height="3.3" fill="rgba(255,255,255,0.55)" stroke="#444" stroke-width="0.75"/>
<rect x="392.01" y="300.35" width="3.3" height="3.3" fill="rgba(255,255,255,0.55)" stroke="#444" stroke-width="0.75"/>
<rect x="409.37" y="300.85" width="3.3" height="3.3" fill="rgba(255,255,255,0.55)" stroke="#444" stroke-width="0.75"/>
<rect x="444.09" y="305.35" width="3.3" height="3.3" fill="rgba(255,255,255,0.55)" stroke="#444" stroke-width="0.75"/>
<circle cx="311.20" cy="281.00" r="1.8" fill="rgba(255,255,255,0.55)" stroke="#444" stroke-width="0.75"/>
<circle cx="324.22" cy="291.00" r="1.8" fill="rgba(255,255,255,0.55)" stroke="#444" stroke-width="0.75"/>
<circle cx="337.24" cy="296.50" r="1.8" fill="rgba(255,255,255,0.55)" stroke="#444" stroke-width="0.75"/>
<circle cx="350.26" cy="304.50" r="1.8" fill="rgba(255,255,255,0.55)" stroke="#444" stroke-width="0.75"/>
<circle cx="361.11" cy="305.80" r="1.8" fill="rgba(255,255,255,0.55)" stroke="#444" stroke-width="0.75"/>
<circle cx="376.30" cy="307.00" r="1.8" fill="rgba(255,255,255,0.55)" stroke="#444" stroke-width="0.75"/>
<circle cx="393.66" cy="307.20" r="1.8" fill="rgba(255,255,255,0.55)" stroke="#444" stroke-width="0.75"/>
<circle cx="411.02" cy="307.30" r="1.8" fill="rgba(255,255,255,0.55)" stroke="#444" stroke-width="0.75"/>
<circle cx="445.74" cy="307.30" r="1.8" fill="rgba(255,255,255,0.55)" stroke="#444" stroke-width="0.75"/>
<polyline points="300.35,293.20 311.20,271.70 324.22,235.00 337.24,221.00 350.26,217.30 361.11,216.00 376.30,213.50 393.66,213.50 411.02,217.70 445.74,216.30" fill="none" stroke="#000" stroke-width="0.8" stroke-dasharray="2.4 0.9" stroke-linejoin="round"/>
<polyline points="300.35,306.60 311.20,298.80 324.22,260.00 337.24,236.80 350.26,224.70 361.11,220.30 376.30,218.00 393.66,214.40 411.02,226.00 445.74,216.00" fill="none" stroke="#000" stroke-width="1.4" stroke-dasharray="2.0 1.3" stroke-linejoin="round"/>
<polyline points="300.35,300.90 311.20,292.00 324.22,265.70 337.24,242.50 350.26,226.50 361.11,222.80 376.30,220.00 393.66,224.40 411.02,220.20 445.74,219.80" fill="none" stroke="#000" stroke-width="0.9" stroke-linejoin="round"/>
<polygon points="300.35,295.20 298.45,291.70 302.25,291.70" fill="#000" stroke="none" stroke-width="0.8" stroke-linejoin="miter"/>
<polygon points="311.20,273.70 309.30,270.20 313.10,270.20" fill="#000" stroke="none" stroke-width="0.8" stroke-linejoin="miter"/>
<polygon points="324.22,237.00 322.32,233.50 326.12,233.50" fill="#000" stroke="none" stroke-width="0.8" stroke-linejoin="miter"/>
<polygon points="337.24,223.00 335.34,219.50 339.14,219.50" fill="#000" stroke="none" stroke-width="0.8" stroke-linejoin="miter"/>
<polygon points="350.26,219.30 348.36,215.80 352.16,215.80" fill="#000" stroke="none" stroke-width="0.8" stroke-linejoin="miter"/>
<polygon points="361.11,218.00 359.21,214.50 363.01,214.50" fill="#000" stroke="none" stroke-width="0.8" stroke-linejoin="miter"/>
<polygon points="376.30,215.50 374.40,212.00 378.20,212.00" fill="#000" stroke="none" stroke-width="0.8" stroke-linejoin="miter"/>
<polygon points="393.66,215.50 391.76,212.00 395.56,212.00" fill="#000" stroke="none" stroke-width="0.8" stroke-linejoin="miter"/>
<polygon points="411.02,219.70 409.12,216.20 412.92,216.20" fill="#000" stroke="none" stroke-width="0.8" stroke-linejoin="miter"/>
<polygon points="445.74,218.30 443.84,214.80 447.64,214.80" fill="#000" stroke="none" stroke-width="0.8" stroke-linejoin="miter"/>
<rect x="298.55" y="304.80" width="3.6" height="3.6" fill="#000" stroke="none" stroke-width="0.8"/>
<rect x="309.40" y="297.00" width="3.6" height="3.6" fill="#000" stroke="none" stroke-width="0.8"/>
<rect x="322.42" y="258.20" width="3.6" height="3.6" fill="#000" stroke="none" stroke-width="0.8"/>
<rect x="335.44" y="235.00" width="3.6" height="3.6" fill="#000" stroke="none" stroke-width="0.8"/>
<rect x="348.46" y="222.90" width="3.6" height="3.6" fill="#000" stroke="none" stroke-width="0.8"/>
<rect x="359.31" y="218.50" width="3.6" height="3.6" fill="#000" stroke="none" stroke-width="0.8"/>
<rect x="374.50" y="216.20" width="3.6" height="3.6" fill="#000" stroke="none" stroke-width="0.8"/>
<rect x="391.86" y="212.60" width="3.6" height="3.6" fill="#000" stroke="none" stroke-width="0.8"/>
<rect x="409.22" y="224.20" width="3.6" height="3.6" fill="#000" stroke="none" stroke-width="0.8"/>
<rect x="443.94" y="214.20" width="3.6" height="3.6" fill="#000" stroke="none" stroke-width="0.8"/>
<circle cx="300.35" cy="300.90" r="1.9" fill="#000" stroke="none" stroke-width="0.8"/>
<circle cx="311.20" cy="292.00" r="1.9" fill="#000" stroke="none" stroke-width="0.8"/>
<circle cx="324.22" cy="265.70" r="1.9" fill="#000" stroke="none" stroke-width="0.8"/>
<circle cx="337.24" cy="242.50" r="1.9" fill="#000" stroke="none" stroke-width="0.8"/>
<circle cx="350.26" cy="226.50" r="1.9" fill="#000" stroke="none" stroke-width="0.8"/>
<circle cx="361.11" cy="222.80" r="1.9" fill="#000" stroke="none" stroke-width="0.8"/>
<circle cx="376.30" cy="220.00" r="1.9" fill="#000" stroke="none" stroke-width="0.8"/>
<circle cx="393.66" cy="224.40" r="1.9" fill="#000" stroke="none" stroke-width="0.8"/>
<circle cx="411.02" cy="220.20" r="1.9" fill="#000" stroke="none" stroke-width="0.8"/>
<circle cx="445.74" cy="219.80" r="1.9" fill="#000" stroke="none" stroke-width="0.8"/>
<text x="352.00" y="252.90" font-size="7.7" font-weight="bold" text-anchor="start" fill="#000" stroke="#000" stroke-width="0.35" stroke-linejoin="round">HL-60:</text>
<text x="393.00" y="252.90" font-size="7.7" font-weight="bold" text-anchor="start" fill="#000" stroke="#000" stroke-width="0.35" stroke-linejoin="round">Lysis</text>
<text x="427.4" y="252.9" font-size="7.7" font-weight="bold" stroke="#000" stroke-width="0.35">EC<tspan font-size="5.2" dy="1.4">50</tspan></text>
<text x="352.00" y="263.30" font-size="7.7" font-weight="bold" text-anchor="start" fill="#000" stroke="#000" stroke-width="0.35" stroke-linejoin="round">SKM-1:</text>
<text x="393.00" y="263.30" font-size="7.7" font-weight="bold" text-anchor="start" fill="#000" stroke="#000" stroke-width="0.35" stroke-linejoin="round">Lysis</text>
<text x="427.4" y="263.3" font-size="7.7" font-weight="bold" stroke="#000" stroke-width="0.35">EC<tspan font-size="5.2" dy="1.4">50</tspan></text>
<text x="352.00" y="273.60" font-size="7.7" font-weight="bold" text-anchor="start" fill="#000" stroke="#000" stroke-width="0.35" stroke-linejoin="round">KG-1:</text>
<text x="393.00" y="273.60" font-size="7.7" font-weight="bold" text-anchor="start" fill="#000" stroke="#000" stroke-width="0.35" stroke-linejoin="round">Lysis</text>
<text x="427.4" y="273.6" font-size="7.7" font-weight="bold" stroke="#000" stroke-width="0.35">EC<tspan font-size="5.2" dy="1.4">50</tspan></text>
<polygon points="385.00,251.60 383.38,248.62 386.62,248.62" fill="#000" stroke="none" stroke-width="0.8" stroke-linejoin="miter"/>
<rect x="383.55" y="259.15" width="2.9" height="2.9" fill="#000" stroke="none" stroke-width="0.8"/>
<circle cx="385.00" cy="271.00" r="1.6" fill="#000" stroke="none" stroke-width="0.8"/>
<polygon points="421.30,251.60 419.69,248.62 422.92,248.62" fill="#fff" stroke="#444" stroke-width="0.7" stroke-linejoin="miter"/>
<rect x="419.90" y="259.20" width="2.8" height="2.8" fill="#fff" stroke="#444" stroke-width="0.7"/>
<circle cx="421.30" cy="271.00" r="1.5" fill="#fff" stroke="#444" stroke-width="0.7"/>
<text x="19.20" y="376.40" font-size="12.4" font-weight="bold" text-anchor="start" fill="#000" stroke="#000" stroke-width="0.55" stroke-linejoin="round">E</text>
<line x1="51.30" y1="378.20" x2="51.30" y2="476.40" stroke="#000" stroke-width="1.4" stroke-linecap="butt"/>
<line x1="48.00" y1="475.70" x2="51.30" y2="475.70" stroke="#000" stroke-width="1.4" stroke-linecap="butt"/>
<text x="46.60" y="478.60" font-size="8.6" font-weight="bold" text-anchor="end" fill="#000" stroke="#000" stroke-width="0.35" stroke-linejoin="round">0</text>
<line x1="48.00" y1="456.34" x2="51.30" y2="456.34" stroke="#000" stroke-width="1.4" stroke-linecap="butt"/>
<text x="46.60" y="459.24" font-size="8.6" font-weight="bold" text-anchor="end" fill="#000" stroke="#000" stroke-width="0.35" stroke-linejoin="round">20</text>
<line x1="48.00" y1="436.98" x2="51.30" y2="436.98" stroke="#000" stroke-width="1.4" stroke-linecap="butt"/>
<text x="46.60" y="439.88" font-size="8.6" font-weight="bold" text-anchor="end" fill="#000" stroke="#000" stroke-width="0.35" stroke-linejoin="round">40</text>
<line x1="48.00" y1="417.62" x2="51.30" y2="417.62" stroke="#000" stroke-width="1.4" stroke-linecap="butt"/>
<text x="46.60" y="420.52" font-size="8.6" font-weight="bold" text-anchor="end" fill="#000" stroke="#000" stroke-width="0.35" stroke-linejoin="round">60</text>
<line x1="48.00" y1="398.26" x2="51.30" y2="398.26" stroke="#000" stroke-width="1.4" stroke-linecap="butt"/>
<text x="46.60" y="401.16" font-size="8.6" font-weight="bold" text-anchor="end" fill="#000" stroke="#000" stroke-width="0.35" stroke-linejoin="round">80</text>
<line x1="48.00" y1="378.90" x2="51.30" y2="378.90" stroke="#000" stroke-width="1.4" stroke-linecap="butt"/>
<text x="46.60" y="381.80" font-size="8.6" font-weight="bold" text-anchor="end" fill="#000" stroke="#000" stroke-width="0.35" stroke-linejoin="round">100</text>
<text x="27.70" y="427.30" font-size="9.4" font-weight="bold" text-anchor="middle" fill="#000" stroke="#000" stroke-width="0.35" stroke-linejoin="round" transform="rotate(-90 27.70 427.30)">Lysis (%)</text>
<line x1="65.00" y1="489.40" x2="80.00" y2="489.40" stroke="#000" stroke-width="1.4" stroke-linecap="butt"/>
<line x1="80.00" y1="486.60" x2="80.00" y2="492.20" stroke="#000" stroke-width="1.4" stroke-linecap="butt"/>
<line x1="75.00" y1="489.40" x2="75.00" y2="492.40" stroke="#000" stroke-width="1.4" stroke-linecap="butt"/>
<line x1="88.10" y1="489.40" x2="219.00" y2="489.40" stroke="#000" stroke-width="1.4" stroke-linecap="butt"/>
<line x1="88.10" y1="486.60" x2="88.10" y2="492.20" stroke="#000" stroke-width="1.4" stroke-linecap="butt"/>
<text x="75.00" y="502.00" font-size="8.6" font-weight="bold" text-anchor="middle" fill="#000" stroke="#000" stroke-width="0.35" stroke-linejoin="round">0</text>
<line x1="99.00" y1="489.40" x2="99.00" y2="492.40" stroke="#000" stroke-width="1.4" stroke-linecap="butt"/>
<text x="99.30" y="502.00" font-size="8.6" font-weight="bold" text-anchor="middle" fill="#000" stroke="#000" stroke-width="0.35">10<tspan font-size="5.6" dy="-3.2" dx="0.6">0</tspan></text>
<line x1="120.60" y1="489.40" x2="120.60" y2="492.40" stroke="#000" stroke-width="1.4" stroke-linecap="butt"/>
<text x="120.90" y="502.00" font-size="8.6" font-weight="bold" text-anchor="middle" fill="#000" stroke="#000" stroke-width="0.35">10<tspan font-size="5.6" dy="-3.2" dx="0.6">1</tspan></text>
<line x1="142.20" y1="489.40" x2="142.20" y2="492.40" stroke="#000" stroke-width="1.4" stroke-linecap="butt"/>
<text x="142.50" y="502.00" font-size="8.6" font-weight="bold" text-anchor="middle" fill="#000" stroke="#000" stroke-width="0.35">10<tspan font-size="5.6" dy="-3.2" dx="0.6">2</tspan></text>
<line x1="163.80" y1="489.40" x2="163.80" y2="492.40" stroke="#000" stroke-width="1.4" stroke-linecap="butt"/>
<text x="164.10" y="502.00" font-size="8.6" font-weight="bold" text-anchor="middle" fill="#000" stroke="#000" stroke-width="0.35">10<tspan font-size="5.6" dy="-3.2" dx="0.6">3</tspan></text>
<line x1="185.40" y1="489.40" x2="185.40" y2="492.40" stroke="#000" stroke-width="1.4" stroke-linecap="butt"/>
<text x="185.70" y="502.00" font-size="8.6" font-weight="bold" text-anchor="middle" fill="#000" stroke="#000" stroke-width="0.35">10<tspan font-size="5.6" dy="-3.2" dx="0.6">4</tspan></text>
<line x1="207.00" y1="489.40" x2="207.00" y2="492.40" stroke="#000" stroke-width="1.4" stroke-linecap="butt"/>
<text x="207.30" y="502.00" font-size="8.6" font-weight="bold" text-anchor="middle" fill="#000" stroke="#000" stroke-width="0.35">10<tspan font-size="5.6" dy="-3.2" dx="0.6">5</tspan></text>
<text x="142.80" y="516.50" font-size="9.25" font-weight="bold" text-anchor="middle" fill="#000" stroke="#000" stroke-width="0.35" stroke-linejoin="round" xml:space="preserve">AMG 330  (pg/mL)</text>
<text x="63.40" y="382.50" font-size="8.8" font-weight="bold" text-anchor="start" fill="#000" stroke="#000" stroke-width="0.35" stroke-linejoin="round">E:T cell ratio</text>
<line x1="76.20" y1="395.00" x2="88.20" y2="395.00" stroke="#000" stroke-width="1.3" stroke-linecap="butt"/>
<text x="92.80" y="397.80" font-size="7.4" font-weight="normal" text-anchor="start" fill="#2a2a2a" stroke="#2a2a2a" stroke-width="0.25">1:2</text>
<line x1="76.20" y1="407.60" x2="88.20" y2="407.60" stroke="#000" stroke-width="1.3" stroke-linecap="butt"/>
<text x="92.80" y="410.40" font-size="7.4" font-weight="normal" text-anchor="start" fill="#2a2a2a" stroke="#2a2a2a" stroke-width="0.25">1:1</text>
<line x1="76.20" y1="420.40" x2="88.20" y2="420.40" stroke="#000" stroke-width="1.3" stroke-linecap="butt"/>
<text x="92.80" y="423.20" font-size="7.4" font-weight="normal" text-anchor="start" fill="#2a2a2a" stroke="#2a2a2a" stroke-width="0.25">5:1</text>
<line x1="76.20" y1="433.00" x2="88.20" y2="433.00" stroke="#000" stroke-width="1.3" stroke-linecap="butt"/>
<text x="91.30" y="435.80" font-size="7.4" font-weight="normal" text-anchor="start" fill="#2a2a2a" stroke="#2a2a2a" stroke-width="0.25">10:1</text>
<circle cx="82.20" cy="395.00" r="1.5" fill="#000" stroke="none" stroke-width="0.8"/>
<rect x="80.80" y="406.20" width="2.8" height="2.8" fill="#000" stroke="none" stroke-width="0.8"/>
<polygon points="82.20,418.60 80.68,421.40 83.72,421.40" fill="#000" stroke="none" stroke-width="0.8" stroke-linejoin="miter"/>
<polygon points="82.20,434.80 80.68,432.00 83.72,432.00" fill="#000" stroke="none" stroke-width="0.8" stroke-linejoin="miter"/>
<polyline points="86.90,457.50 87.77,457.50 88.63,457.50 89.50,457.50 90.36,457.50 91.22,457.50 92.09,457.50 92.95,457.49 93.82,457.49 94.68,457.49 95.54,457.49 96.41,457.49 97.27,457.49 98.14,457.48 99.00,457.48 99.86,457.48 100.73,457.48 101.59,457.47 102.46,457.47 103.32,457.46 104.18,457.45 105.05,457.45 105.91,457.44 106.78,457.43 107.64,457.42 108.50,457.40 109.37,457.39 110.23,457.37 111.10,457.35 111.96,457.32 112.82,457.30 113.69,457.26 114.55,457.23 115.42,457.18 116.28,457.13 117.14,457.07 118.01,457.01 118.87,456.93 119.74,456.84 120.60,456.74 121.46,456.62 122.33,456.49 123.19,456.33 124.06,456.15 124.92,455.95 125.78,455.71 126.65,455.44 127.51,455.14 128.38,454.79 129.24,454.40 130.10,453.95 130.97,453.45 131.83,452.89 132.70,452.27 133.56,451.57 134.42,450.81 135.29,449.97 136.15,449.05 137.02,448.06 137.88,447.00 138.74,445.88 139.61,444.69 140.47,443.45 141.34,442.17 142.20,440.87 143.06,439.55 143.93,438.22 144.79,436.92 145.66,435.64 146.52,434.40 147.38,433.21 148.25,432.09 149.11,431.03 149.98,430.04 150.84,429.12 151.70,428.28 152.57,427.52 153.43,426.82 154.30,426.20 155.16,425.64 156.02,425.14 156.89,424.69 157.75,424.30 158.62,423.95 159.48,423.65 160.34,423.38 161.21,423.14 162.07,422.94 162.94,422.76 163.80,422.60 164.66,422.47 165.53,422.35 166.39,422.25 167.26,422.16 168.12,422.08 168.98,422.02 169.85,421.96 170.71,421.91 171.58,421.86 172.44,421.83 173.30,421.79 174.17,421.77 175.03,421.74 175.90,421.72 176.76,421.70 177.62,421.69 178.49,421.67 179.35,421.66 180.22,421.65 181.08,421.64 181.94,421.64 182.81,421.63 183.67,421.62 184.54,421.62 185.40,421.62 186.26,421.61 187.13,421.61 187.99,421.61 188.86,421.60 189.72,421.60 190.58,421.60 191.45,421.60 192.31,421.60 193.18,421.60 194.04,421.59 194.90,421.59 195.77,421.59 196.63,421.59 197.50,421.59 198.36,421.59 199.22,421.59 200.09,421.59 200.95,421.59 201.82,421.59 202.68,421.59 203.54,421.59 204.41,421.59 205.27,421.59 206.14,421.59 207.00,421.59" fill="none" stroke="#000" stroke-width="1.3" stroke-linejoin="round"/>
<line x1="75.00" y1="457.50" x2="80.50" y2="457.50" stroke="#000" stroke-width="1.3" stroke-linecap="butt"/>
<polyline points="86.90,460.01 87.77,460.01 88.63,460.01 89.50,460.01 90.36,460.01 91.22,460.01 92.09,460.00 92.95,460.00 93.82,460.00 94.68,460.00 95.54,459.99 96.41,459.99 97.27,459.98 98.14,459.98 99.00,459.97 99.86,459.97 100.73,459.96 101.59,459.95 102.46,459.94 103.32,459.92 104.18,459.91 105.05,459.89 105.91,459.87 106.78,459.85 107.64,459.82 108.50,459.79 109.37,459.76 110.23,459.71 111.10,459.67 111.96,459.61 112.82,459.55 113.69,459.47 114.55,459.39 115.42,459.29 116.28,459.17 117.14,459.04 118.01,458.89 118.87,458.71 119.74,458.51 120.60,458.28 121.46,458.01 122.33,457.71 123.19,457.35 124.06,456.95 124.92,456.49 125.78,455.97 126.65,455.37 127.51,454.69 128.38,453.93 129.24,453.07 130.10,452.10 130.97,451.02 131.83,449.82 132.70,448.50 133.56,447.04 134.42,445.45 135.29,443.73 136.15,441.88 137.02,439.91 137.88,437.83 138.74,435.66 139.61,433.40 140.47,431.10 141.34,428.76 142.20,426.41 143.06,424.09 143.93,421.80 144.79,419.59 145.66,417.46 146.52,415.43 147.38,413.52 148.25,411.73 149.11,410.08 149.98,408.56 150.84,407.17 151.70,405.90 152.57,404.76 153.43,403.74 154.30,402.83 155.16,402.02 156.02,401.30 156.89,400.66 157.75,400.10 158.62,399.61 159.48,399.18 160.34,398.81 161.21,398.48 162.07,398.19 162.94,397.94 163.80,397.73 164.66,397.54 165.53,397.37 166.39,397.23 167.26,397.11 168.12,397.00 168.98,396.91 169.85,396.83 170.71,396.76 171.58,396.70 172.44,396.65 173.30,396.61 174.17,396.57 175.03,396.53 175.90,396.51 176.76,396.48 177.62,396.46 178.49,396.44 179.35,396.42 180.22,396.41 181.08,396.40 181.94,396.39 182.81,396.38 183.67,396.37 184.54,396.37 185.40,396.36 186.26,396.36 187.13,396.35 187.99,396.35 188.86,396.34 189.72,396.34 190.58,396.34 191.45,396.34 192.31,396.34 193.18,396.33 194.04,396.33 194.90,396.33 195.77,396.33 196.63,396.33 197.50,396.33 198.36,396.33 199.22,396.33 200.09,396.33 200.95,396.33 201.82,396.33 202.68,396.33 203.54,396.33 204.41,396.33 205.27,396.33 206.14,396.33 207.00,396.32" fill="none" stroke="#000" stroke-width="1.3" stroke-linejoin="round"/>
<line x1="75.00" y1="460.02" x2="80.50" y2="460.02" stroke="#000" stroke-width="1.3" stroke-linecap="butt"/>
<polyline points="86.90,466.31 87.77,466.31 88.63,466.31 89.50,466.31 90.36,466.31 91.22,466.31 92.09,466.31 92.95,466.31 93.82,466.31 94.68,466.31 95.54,466.31 96.41,466.31 97.27,466.31 98.14,466.31 99.00,466.31 99.86,466.31 100.73,466.31 101.59,466.31 102.46,466.31 103.32,466.31 104.18,466.31 105.05,466.31 105.91,466.31 106.78,466.31 107.64,466.31 108.50,466.31 109.37,466.31 110.23,466.31 111.10,466.31 111.96,466.30 112.82,466.30 113.69,466.30 114.55,466.29 115.42,466.28 116.28,466.26 117.14,466.24 118.01,466.21 118.87,466.15 119.74,466.07 120.60,465.95 121.46,465.76 122.33,465.48 123.19,465.06 124.06,464.44 124.92,463.51 125.78,462.15 126.65,460.18 127.51,457.38 128.38,453.53 129.24,448.43 130.10,442.04 130.97,434.54 131.83,426.38 132.70,418.22 133.56,410.72 134.42,404.33 135.29,399.23 136.15,395.38 137.02,392.58 137.88,390.61 138.74,389.25 139.61,388.32 140.47,387.70 141.34,387.28 142.20,387.00 143.06,386.81 143.93,386.69 144.79,386.61 145.66,386.56 146.52,386.52 147.38,386.50 148.25,386.48 149.11,386.47 149.98,386.46 150.84,386.46 151.70,386.46 152.57,386.45 153.43,386.45 154.30,386.45 155.16,386.45 156.02,386.45 156.89,386.45 157.75,386.45 158.62,386.45 159.48,386.45 160.34,386.45 161.21,386.45 162.07,386.45 162.94,386.45 163.80,386.45 164.66,386.45 165.53,386.45 166.39,386.45 167.26,386.45 168.12,386.45 168.98,386.45 169.85,386.45 170.71,386.45 171.58,386.45 172.44,386.45 173.30,386.45 174.17,386.45 175.03,386.45 175.90,386.45 176.76,386.45 177.62,386.45 178.49,386.45 179.35,386.45 180.22,386.45 181.08,386.45 181.94,386.45 182.81,386.45 183.67,386.45 184.54,386.45 185.40,386.45 186.26,386.45 187.13,386.45 187.99,386.45 188.86,386.45 189.72,386.45 190.58,386.45 191.45,386.45 192.31,386.45 193.18,386.45 194.04,386.45 194.90,386.45 195.77,386.45 196.63,386.45 197.50,386.45 198.36,386.45 199.22,386.45 200.09,386.45 200.95,386.45 201.82,386.45 202.68,386.45 203.54,386.45 204.41,386.45 205.27,386.45 206.14,386.45 207.00,386.45" fill="none" stroke="#000" stroke-width="1.3" stroke-linejoin="round"/>
<line x1="75.00" y1="466.31" x2="80.50" y2="466.31" stroke="#000" stroke-width="1.3" stroke-linecap="butt"/>
<polyline points="86.90,463.31 87.77,463.31 88.63,463.31 89.50,463.31 90.36,463.31 91.22,463.31 92.09,463.31 92.95,463.31 93.82,463.31 94.68,463.31 95.54,463.31 96.41,463.31 97.27,463.31 98.14,463.31 99.00,463.31 99.86,463.31 100.73,463.31 101.59,463.30 102.46,463.30 103.32,463.30 104.18,463.30 105.05,463.29 105.91,463.29 106.78,463.28 107.64,463.27 108.50,463.26 109.37,463.24 110.23,463.22 111.10,463.19 111.96,463.16 112.82,463.11 113.69,463.04 114.55,462.96 115.42,462.85 116.28,462.70 117.14,462.51 118.01,462.26 118.87,461.94 119.74,461.51 120.60,460.95 121.46,460.23 122.33,459.31 123.19,458.12 124.06,456.61 124.92,454.72 125.78,452.37 126.65,449.51 127.51,446.11 128.38,442.14 129.24,437.65 130.10,432.73 130.97,427.53 131.83,422.23 132.70,417.03 133.56,412.11 134.42,407.62 135.29,403.65 136.15,400.25 137.02,397.39 137.88,395.04 138.74,393.15 139.61,391.64 140.47,390.45 141.34,389.53 142.20,388.81 143.06,388.25 143.93,387.82 144.79,387.50 145.66,387.25 146.52,387.06 147.38,386.91 148.25,386.80 149.11,386.72 149.98,386.65 150.84,386.60 151.70,386.57 152.57,386.54 153.43,386.52 154.30,386.50 155.16,386.49 156.02,386.48 156.89,386.47 157.75,386.47 158.62,386.46 159.48,386.46 160.34,386.46 161.21,386.46 162.07,386.45 162.94,386.45 163.80,386.45 164.66,386.45 165.53,386.45 166.39,386.45 167.26,386.45 168.12,386.45 168.98,386.45 169.85,386.45 170.71,386.45 171.58,386.45 172.44,386.45 173.30,386.45 174.17,386.45 175.03,386.45 175.90,386.45 176.76,386.45 177.62,386.45 178.49,386.45 179.35,386.45 180.22,386.45 181.08,386.45 181.94,386.45 182.81,386.45 183.67,386.45 184.54,386.45 185.40,386.45 186.26,386.45 187.13,386.45 187.99,386.45 188.86,386.45 189.72,386.45 190.58,386.45 191.45,386.45 192.31,386.45 193.18,386.45 194.04,386.45 194.90,386.45 195.77,386.45 196.63,386.45 197.50,386.45 198.36,386.45 199.22,386.45 200.09,386.45 200.95,386.45 201.82,386.45 202.68,386.45 203.54,386.45 204.41,386.45 205.27,386.45 206.14,386.45 207.00,386.45" fill="none" stroke="#000" stroke-width="1.3" stroke-linejoin="round"/>
<line x1="75.00" y1="463.31" x2="80.50" y2="463.31" stroke="#000" stroke-width="1.3" stroke-linecap="butt"/>
<circle cx="75.00" cy="457.50" r="1.9" fill="#000" stroke="none" stroke-width="0.8"/>
<rect x="73.30" y="458.30" width="3.4" height="3.4" fill="#000" stroke="none" stroke-width="0.8"/>
<polygon points="75.00,464.40 73.19,467.73 76.81,467.73" fill="#000" stroke="none" stroke-width="0.8" stroke-linejoin="miter"/>
<polygon points="75.00,465.20 73.19,461.88 76.81,461.88" fill="#000" stroke="none" stroke-width="0.8" stroke-linejoin="miter"/>
<polygon points="106.20,464.40 104.39,467.73 108.01,467.73" fill="#000" stroke="none" stroke-width="0.8" stroke-linejoin="miter"/>
<polygon points="123.00,460.10 121.19,463.43 124.81,463.43" fill="#000" stroke="none" stroke-width="0.8" stroke-linejoin="miter"/>
<polygon points="139.80,388.10 138.00,391.43 141.61,391.43" fill="#000" stroke="none" stroke-width="0.8" stroke-linejoin="miter"/>
<polygon points="156.60,386.10 154.79,389.43 158.41,389.43" fill="#000" stroke="none" stroke-width="0.8" stroke-linejoin="miter"/>
<polygon points="173.40,384.40 171.59,387.73 175.21,387.73" fill="#000" stroke="none" stroke-width="0.8" stroke-linejoin="miter"/>
<polygon points="190.20,384.10 188.39,387.43 192.00,387.43" fill="#000" stroke="none" stroke-width="0.8" stroke-linejoin="miter"/>
<polygon points="207.00,384.10 205.19,387.43 208.81,387.43" fill="#000" stroke="none" stroke-width="0.8" stroke-linejoin="miter"/>
<polygon points="106.20,465.20 104.39,461.88 108.01,461.88" fill="#000" stroke="none" stroke-width="0.8" stroke-linejoin="miter"/>
<polygon points="123.00,455.40 121.19,452.07 124.81,452.07" fill="#000" stroke="none" stroke-width="0.8" stroke-linejoin="miter"/>
<polygon points="139.80,390.90 138.00,387.57 141.61,387.57" fill="#000" stroke="none" stroke-width="0.8" stroke-linejoin="miter"/>
<polygon points="156.60,389.90 154.79,386.57 158.41,386.57" fill="#000" stroke="none" stroke-width="0.8" stroke-linejoin="miter"/>
<polygon points="173.40,388.20 171.59,384.88 175.21,384.88" fill="#000" stroke="none" stroke-width="0.8" stroke-linejoin="miter"/>
<polygon points="190.20,387.90 188.39,384.57 192.00,384.57" fill="#000" stroke="none" stroke-width="0.8" stroke-linejoin="miter"/>
<polygon points="207.00,387.90 205.19,384.57 208.81,384.57" fill="#000" stroke="none" stroke-width="0.8" stroke-linejoin="miter"/>
<rect x="104.50" y="458.30" width="3.4" height="3.4" fill="#000" stroke="none" stroke-width="0.8"/>
<rect x="121.30" y="454.80" width="3.4" height="3.4" fill="#000" stroke="none" stroke-width="0.8"/>
<rect x="138.10" y="434.30" width="3.4" height="3.4" fill="#000" stroke="none" stroke-width="0.8"/>
<rect x="154.90" y="401.50" width="3.4" height="3.4" fill="#000" stroke="none" stroke-width="0.8"/>
<rect x="171.70" y="393.80" width="3.4" height="3.4" fill="#000" stroke="none" stroke-width="0.8"/>
<rect x="188.50" y="395.10" width="3.4" height="3.4" fill="#000" stroke="none" stroke-width="0.8"/>
<rect x="205.30" y="396.30" width="3.4" height="3.4" fill="#000" stroke="none" stroke-width="0.8"/>
<circle cx="106.20" cy="457.50" r="1.9" fill="#000" stroke="none" stroke-width="0.8"/>
<circle cx="123.00" cy="455.50" r="1.9" fill="#000" stroke="none" stroke-width="0.8"/>
<circle cx="139.80" cy="445.00" r="1.9" fill="#000" stroke="none" stroke-width="0.8"/>
<circle cx="156.60" cy="425.00" r="1.9" fill="#000" stroke="none" stroke-width="0.8"/>
<circle cx="173.40" cy="419.30" r="1.9" fill="#000" stroke="none" stroke-width="0.8"/>
<circle cx="190.20" cy="420.80" r="1.9" fill="#000" stroke="none" stroke-width="0.8"/>
<circle cx="207.00" cy="425.00" r="1.9" fill="#000" stroke="none" stroke-width="0.8"/>
</g>
</svg>
</body></html>
